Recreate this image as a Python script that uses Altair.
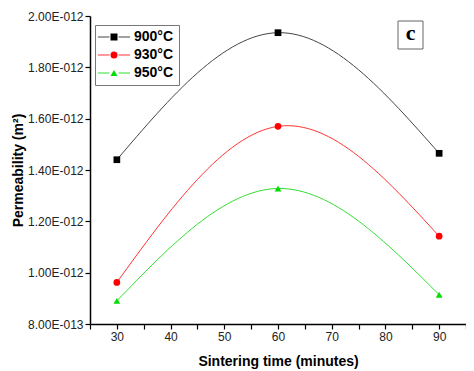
import altair as alt
import pandas as pd

# ---- data ----
times = [30, 60, 90]
series_names = ["900°C", "930°C", "950°C"]
perm_900 = [1.44e-12, 1.935e-12, 1.465e-12]
perm_930 = [0.962e-12, 1.570e-12, 1.142e-12]
perm_950 = [0.890e-12, 1.328e-12, 0.914e-12]

y_ticks = [8e-13, 1.0e-12, 1.2e-12, 1.4e-12, 1.6e-12, 1.8e-12, 2.0e-12]
x_ticks = [25, 30, 35, 40, 45, 50, 55, 60, 65, 70, 75, 80, 85, 90, 95]

point_colors = ["#000000", "#ff0000", "#00dd00"]
line_colors = ["#444444", "#ff3333", "#33dd33"]
shapes = ["square", "circle", "triangle-up"]

rows = []
for name, vals in zip(series_names, [perm_900, perm_930, perm_950]):
    for t, v in zip(times, vals):
        rows.append({"time": t, "perm": v, "series": name, "series_l": name})
df = pd.DataFrame(rows)

FONT = "Liberation Sans"

x_enc = alt.X(
    "time:Q",
    scale=alt.Scale(domain=[25, 95], nice=False, zero=False),
    axis=alt.Axis(
        title="Sintering time (minutes)",
        values=x_ticks,
        labelExpr="(datum.value % 10 == 0 && datum.value >= 30 && datum.value <= 90) ? datum.label : ''",
        grid=False,
        tickSize=5,
        labelFontSize=12,
        labelFont=FONT,
        labelColor="#222222",
        labelPadding=2,
        titleFont=FONT,
        titleFontSize=14,
        titleFontWeight="bold",
        titleColor="#000000",
        titlePadding=12,
        domainColor="#000000",
        domainWidth=1.5,
        tickColor="#000000",
        tickWidth=1.2,
    ),
)
y_enc = alt.Y(
    "perm:Q",
    scale=alt.Scale(domain=[8e-13, 2e-12], nice=False, zero=False),
    axis=alt.Axis(
        title="Permeability (m²)",
        values=y_ticks,
        labelExpr="datum.value >= 9.99e-13 ? format(datum.value * 1e12, '.2f') + 'E-012' : format(datum.value * 1e13, '.2f') + 'E-013'",
        grid=False,
        tickSize=5,
        labelFontSize=12,
        labelFont=FONT,
        labelColor="#222222",
        labelPadding=2,
        titleFont=FONT,
        titleFontSize=14,
        titleFontWeight="bold",
        titleColor="#000000",
        titlePadding=2,
        domainColor="#000000",
        domainWidth=1.5,
        tickColor="#000000",
        tickWidth=1.2,
    ),
)

LEG_X, LEG_Y = 5, 9
common_leg = dict(
    orient="none",
    legendX=LEG_X,
    legendY=LEG_Y,
    title=None,
    symbolSize=49,
    labelFont=FONT,
    labelFontSize=14,
    labelFontWeight="bold",
    labelColor="#000000",
    labelOffset=13,
    symbolOffset=7,
    rowPadding=4,
    padding=5,
)

# line legend (stubs of line + box); its scale uses default sorted domain so it
# is not merged with the marker legend
lines = alt.Chart(df).mark_line(interpolate="natural", strokeWidth=1).encode(
    x=x_enc,
    y=y_enc,
    stroke=alt.Stroke(
        "series_l:N",
        scale=alt.Scale(range=line_colors),
        legend=alt.Legend(
            symbolType="M-4.6,0H-1.3M1.3,0H4.6",
            symbolStrokeWidth=1,
            labelOpacity=0,
            strokeColor="#777777",
            **common_leg,
        ),
    ),
)

points = alt.Chart(df).mark_point(filled=True, size=45, opacity=1).encode(
    x=x_enc,
    y=y_enc,
    color=alt.Color(
        "series:N",
        scale=alt.Scale(domain=series_names, range=point_colors),
        legend=alt.Legend(symbolStrokeWidth=0, symbolOpacity=1, **common_leg),
    ),
    shape=alt.Shape(
        "series:N",
        scale=alt.Scale(domain=series_names, range=shapes),
        legend=alt.Legend(symbolStrokeWidth=0, symbolOpacity=1, **common_leg),
    ),
)

box_df = pd.DataFrame({"label": ["c"]})
label_box = alt.Chart(box_df).mark_rect(
    fill="white", stroke="#666666", strokeWidth=1
).encode(
    x=alt.value(308), x2=alt.value(333), y=alt.value(5), y2=alt.value(33)
)
label_text = alt.Chart(box_df).mark_text(
    font="Liberation Serif", fontSize=22, fontWeight="bold", color="#000000", baseline="middle"
).encode(text="label:N", x=alt.value(320.5), y=alt.value(17))

chart = (
    alt.layer(lines, points, label_box, label_text)
    .properties(
        width=376,
        height=308,
        padding={"left": 82, "top": 8, "right": 0, "bottom": 47},
        autosize=alt.AutoSizeParams(type="none"),
        background="white",
    )
    .configure_view(stroke=None)
)

chart.save("out.html", embed_options={"renderer": "svg", "actions": False})
